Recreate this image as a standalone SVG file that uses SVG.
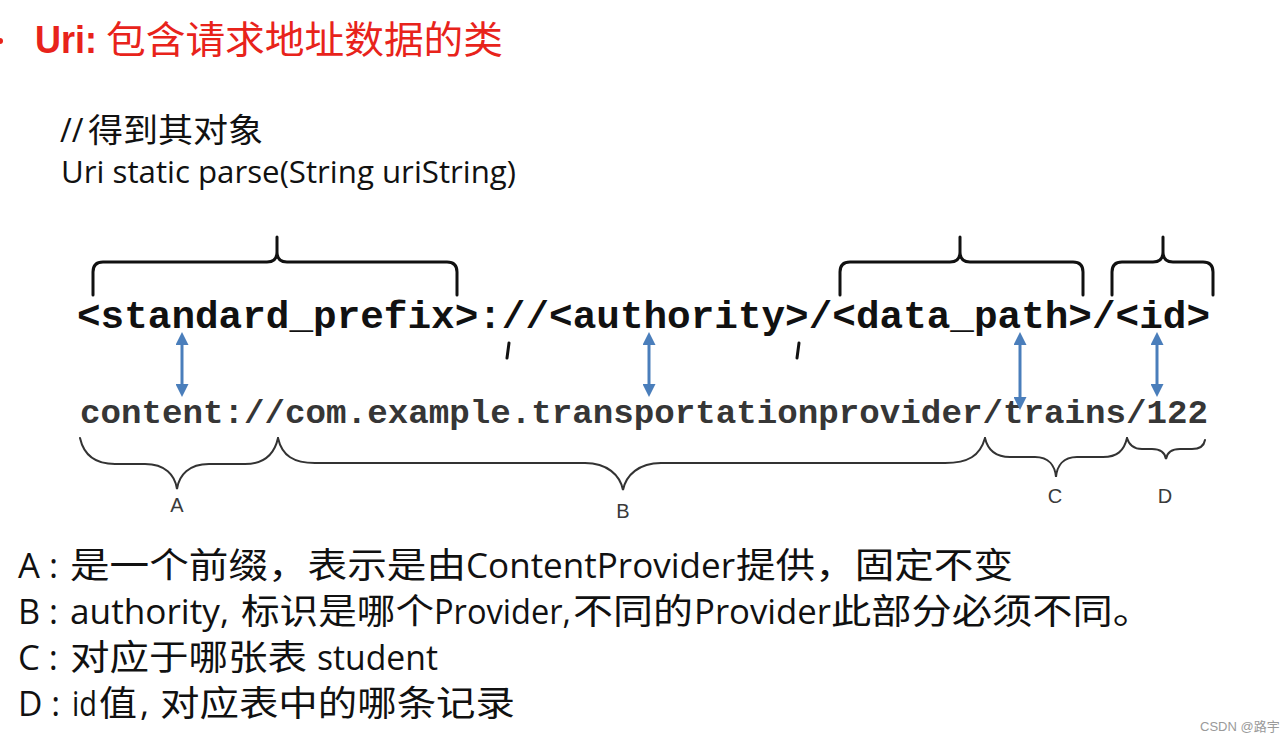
<svg xmlns="http://www.w3.org/2000/svg" width="1283" height="743" viewBox="0 0 1283 743">
  <style>
    .title-lat { font-family: "Liberation Sans", Arial, sans-serif; font-weight: bold; fill: #e8231b; }
    .title-cjk { font-family: "Noto Sans CJK SC", sans-serif; fill: #e8231b; }
    .body { font-family: "Open Sans", "Noto Sans CJK SC", sans-serif; fill: #111; }
    .cjk { font-family: "Noto Sans CJK SC", sans-serif; fill: #111; }
    .mono1 { font-family: "Liberation Mono", "Courier New", monospace; font-weight: bold; fill: #111; }
    .mono2 { font-family: "Liberation Mono", "Courier New", monospace; font-weight: bold; fill: #363636; }
    .brace-top { fill: none; stroke: #111; stroke-width: 3; stroke-linecap: round; stroke-linejoin: round; }
    .brace-bot { fill: none; stroke: #333; stroke-width: 2; stroke-linecap: round; }
    .tick { stroke: #111; stroke-width: 3; stroke-linecap: round; }
    .arrow { stroke: #4a7ebb; stroke-width: 3; marker-start: url(#ah); marker-end: url(#ah); }
    .lbl { font-family: "Liberation Sans", Arial, sans-serif; font-size: 20px; fill: #3a3a3a; text-anchor: middle; }
    .line { font-size: 35px; }
  </style>
  <defs>
    <marker id="ah" markerUnits="userSpaceOnUse" markerWidth="13" markerHeight="13" viewBox="0 0 13 13" refX="4" refY="6.5" orient="auto-start-reverse">
      <path d="M0,0 L13,6.5 L0,13 z" fill="#4a7ebb"/>
    </marker>
  </defs>
  <rect width="1283" height="743" fill="#ffffff"/>

  <g id="title">
    <ellipse cx="0" cy="41" rx="3" ry="3" fill="#e8231b"/>
    <text class="title-lat" x="35" y="53" font-size="39" textLength="62" lengthAdjust="spacingAndGlyphs">Uri:</text>
    <text class="title-cjk" x="106" y="53" font-size="38" textLength="397" lengthAdjust="spacingAndGlyphs">包含请求地址数据的类</text>
  </g>

  <g id="method">
    <text class="body" x="60" y="142" font-size="32">//</text>
    <text class="cjk" x="88" y="142" font-size="33" textLength="175" lengthAdjust="spacingAndGlyphs">得到其对象</text>
    <text class="body" x="61" y="183" font-size="31" textLength="455" lengthAdjust="spacingAndGlyphs">Uri static parse(String uriString)</text>
  </g>

  <g id="uri-template">
    <text class="mono1" x="77" y="328" font-size="39" textLength="1133" lengthAdjust="spacingAndGlyphs">&lt;standard_prefix&gt;://&lt;authority&gt;/&lt;data_path&gt;/&lt;id&gt;</text>
  </g>

  <g id="uri-example">
    <text class="mono2" x="80" y="423" font-size="34" textLength="1128" lengthAdjust="spacingAndGlyphs">content://com.example.transportationprovider/trains/122</text>
  </g>

  <g id="top-braces">
    <path class="brace-top" d="M93,295 V272 Q93,262 103,262 H267 Q277,262 277,252 V237 M277,252 Q277,262 287,262 H447 Q457,262 457,272 V295"/>
    <path class="brace-top" d="M840,295 V272 Q840,262 850,262 H950 Q960,262 960,252 V237 M960,252 Q960,262 970,262 H1073 Q1083,262 1083,272 V295"/>
    <path class="brace-top" d="M1112,295 V272 Q1112,262 1122,262 H1153 Q1163,262 1163,252 V237 M1163,252 Q1163,262 1173,262 H1203 Q1213,262 1213,272 V295"/>
    <line class="tick" x1="509" y1="343" x2="507" y2="358"/>
    <line class="tick" x1="799" y1="343" x2="797" y2="358"/>
  </g>

  <g id="connectors">
    <line class="arrow" x1="182" y1="341" x2="182" y2="388"/>
    <line class="arrow" x1="649" y1="341" x2="649" y2="388"/>
    <line class="arrow" x1="1020" y1="341" x2="1020" y2="401"/>
    <line class="arrow" x1="1157" y1="341" x2="1157" y2="388"/>
  </g>

  <g id="bottom-braces">
    <path class="brace-bot" d="M80,438 C84,456 96,464 115,464 L145,464 C165,464 175,475 177,489 C179,475 189,464 209,464 L245,464 C262,464 274,456 278,438"/>
    <path class="brace-bot" d="M278,438 C282,456 294,463 315,463 L585,463 C607,463 620,475 623,490 C626,475 639,463 661,463 L945,463 C968,463 980,456 985,438"/>
    <path class="brace-bot" d="M985,438 C988,451 996,457 1010,457 L1035,457 C1049,457 1055,466 1056,477 C1057,466 1063,457 1077,457 L1103,457 C1117,457 1124,451 1127,438"/>
    <path class="brace-bot" d="M1127,438 C1129,445 1134,449 1142,449 L1152,449 C1161,449 1165,453 1166,459 C1167,453 1171,449 1180,449 L1192,449 C1200,449 1204,446 1205,440"/>
  </g>

  <g id="labels">
    <text class="lbl" x="177" y="512">A</text>
    <text class="lbl" x="623" y="518">B</text>
    <text class="lbl" x="1055" y="503">C</text>
    <text class="lbl" x="1165" y="503">D</text>
  </g>

  <g id="desc-a" class="line">
    <text class="body" x="18" y="578" textLength="40" lengthAdjust="spacingAndGlyphs">A :</text>
    <text class="cjk" x="70" y="578" textLength="396" lengthAdjust="spacingAndGlyphs">是一个前缀，表示是由</text>
    <text class="body" x="466" y="578" textLength="269" lengthAdjust="spacingAndGlyphs">ContentProvider</text>
    <text class="cjk" x="736" y="578" textLength="277" lengthAdjust="spacingAndGlyphs">提供，固定不变</text>
  </g>
  <g id="desc-b" class="line">
    <text class="body" x="18" y="624" textLength="40" lengthAdjust="spacingAndGlyphs">B :</text>
    <text class="body" x="70" y="624" textLength="159" lengthAdjust="spacingAndGlyphs">authority,</text>
    <text class="cjk" x="241" y="624" textLength="193" lengthAdjust="spacingAndGlyphs">标识是哪个</text>
    <text class="body" x="434" y="624" textLength="137" lengthAdjust="spacingAndGlyphs">Provider,</text>
    <text class="cjk" x="573" y="624" textLength="120" lengthAdjust="spacingAndGlyphs">不同的</text>
    <text class="body" x="694" y="624" textLength="137" lengthAdjust="spacingAndGlyphs">Provider</text>
    <text class="cjk" x="831" y="624" textLength="322" lengthAdjust="spacingAndGlyphs">此部分必须不同。</text>
  </g>
  <g id="desc-c" class="line">
    <text class="body" x="18" y="670" textLength="40" lengthAdjust="spacingAndGlyphs">C :</text>
    <text class="cjk" x="70" y="670" textLength="237" lengthAdjust="spacingAndGlyphs">对应于哪张表</text>
    <text class="body" x="317" y="670" textLength="121" lengthAdjust="spacingAndGlyphs">student</text>
  </g>
  <g id="desc-d" class="line">
    <text class="body" x="18" y="716" textLength="42" lengthAdjust="spacingAndGlyphs">D :</text>
    <text class="body" x="72" y="716" textLength="25" lengthAdjust="spacingAndGlyphs">id</text>
    <text class="cjk" x="99" y="716" textLength="38" lengthAdjust="spacingAndGlyphs">值</text>
    <text class="body" x="140" y="716">,</text>
    <text class="cjk" x="160" y="716" textLength="355" lengthAdjust="spacingAndGlyphs">对应表中的哪条记录</text>
  </g>

  <g id="watermark">
    <text x="1200" y="731" font-family="'Liberation Sans', 'Noto Sans CJK SC', sans-serif" font-size="13" fill="#9a9a9a">CSDN @路宇</text>
  </g>
</svg>
